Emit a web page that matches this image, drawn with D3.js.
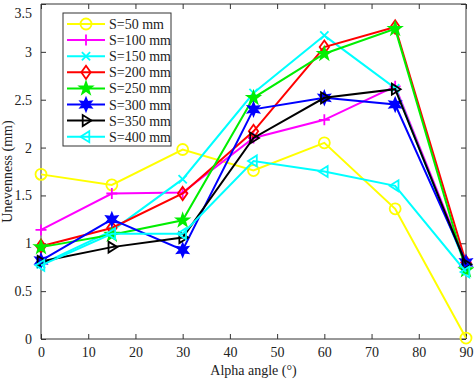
<!DOCTYPE html>
<html><head><meta charset="utf-8">
<script src="https://cdn.jsdelivr.net/npm/d3@7"></script>
<style>body{margin:0;background:#fff}svg{display:block}text{font-family:"Liberation Serif","Times New Roman",serif}</style>
</head><body>
<script>
const angles = [0, 15, 30, 45, 60, 75, 90];
const seriesNames = ["S=50 mm","S=100 mm","S=150 mm","S=200 mm","S=250 mm","S=300 mm","S=350 mm","S=400 mm"];
const s50  = [1.72, 1.61, 1.98, 1.76, 2.05, 1.36, 0.01];
const s100 = [1.14, 1.52, 1.53, 2.10, 2.29, 2.64, 0.80];
const s150 = [0.78, 1.13, 1.67, 2.57, 3.17, 2.62, 0.76];
const s200 = [0.97, 1.16, 1.52, 2.17, 3.05, 3.26, 0.80];
const s250 = [0.96, 1.09, 1.24, 2.52, 2.98, 3.24, 0.72];
const s300 = [0.82, 1.25, 0.93, 2.40, 2.52, 2.45, 0.80];
const s350 = [0.81, 0.96, 1.06, 2.10, 2.52, 2.61, 0.78];
const s400 = [0.77, 1.10, 1.10, 1.86, 1.75, 1.60, 0.70];
const colors = ["#ffff00","#ff00ff","#00ffff","#ff0000","#00ee00","#0000ff","#000000","#00ffff"];
const markers = ["circle","plus","x","diamond","star5","star6","triRight","triLeft"];
const xTicks = [0,10,20,30,40,50,60,70,80,90];
const yTicks = [0,0.5,1,1.5,2,2.5,3,3.5];
const allSeries = [s50,s100,s150,s200,s250,s300,s350,s400];

const W=474,H=381;
const m={l:41,r:8,t:4,b:42};
const svg=d3.select("body").append("svg").attr("width",W).attr("height",H);
const x=d3.scaleLinear().domain([0,90]).range([m.l,W-m.r]);
const y=d3.scaleLinear().domain([0,3.5]).range([H-m.b,m.t]);

function markerPath(type, r){
  const p=d3.path();
  if(type==="circle"){p.arc(0,0,r,0,2*Math.PI);}
  else if(type==="plus"){p.moveTo(-r,0);p.lineTo(r,0);p.moveTo(0,-r);p.lineTo(0,r);}
  else if(type==="x"){const a=r*0.75;p.moveTo(-a,-a);p.lineTo(a,a);p.moveTo(-a,a);p.lineTo(a,-a);}
  else if(type==="diamond"){p.moveTo(0,-r*1.2);p.lineTo(r*0.85,0);p.lineTo(0,r*1.2);p.lineTo(-r*0.85,0);p.closePath();}
  else if(type==="star5"||type==="star6"){
    const n=type==="star5"?5:6; const ri=type==="star5"?r*0.45:r*0.55;
    for(let i=0;i<2*n;i++){const rr=i%2?ri:r*1.15;const a=-Math.PI/2+i*Math.PI/n;
      const px=rr*Math.cos(a),py=rr*Math.sin(a); if(i===0)p.moveTo(px,py);else p.lineTo(px,py);}
    p.closePath();
  }
  else if(type==="triRight"){p.moveTo(r,0);p.lineTo(-r*0.6,-r);p.lineTo(-r*0.6,r);p.closePath();}
  else if(type==="triLeft"){p.moveTo(-r,0);p.lineTo(r*0.6,-r);p.lineTo(r*0.6,r);p.closePath();}
  return p.toString();
}
function filled(t){return t==="star5"||t==="star6";}

const g=svg.append("g");
const xb=g.append("g").attr("transform",`translate(0,${H-m.b})`).call(d3.axisBottom(x).tickValues(xTicks).tickSize(-5).tickPadding(8));
const xt=g.append("g").attr("transform",`translate(0,${m.t})`).call(d3.axisTop(x).tickValues(xTicks).tickSize(-5).tickFormat(""));
const yl=g.append("g").attr("transform",`translate(${m.l},0)`).call(d3.axisLeft(y).tickValues(yTicks).tickSize(-5).tickPadding(9).tickFormat(d=>d));
const yr=g.append("g").attr("transform",`translate(${W-m.r},0)`).call(d3.axisRight(y).tickValues(yTicks).tickSize(-5).tickFormat(""));
[xb,xt,yl,yr].forEach(a=>{a.selectAll("path.domain").attr("stroke","#333").attr("stroke-width",1);a.selectAll("line").attr("stroke","#333");
  a.selectAll("text").attr("font-size",14).attr("fill","#222").attr("font-family","Liberation Serif");});
yl.selectAll(".tick").filter(d=>d===3.5).select("text").attr("dy","0.95em");
xb.select("path.domain").attr("d",`M${m.l},0H${W-m.r}`);
xt.select("path.domain").attr("d",`M${m.l},0H${W-m.r}`);
yl.select("path.domain").attr("d",`M0,${m.t}V${H-m.b}`);
yr.select("path.domain").attr("d",`M0,${m.t}V${H-m.b}`);

svg.append("text").attr("x",W/2+m.l/2-4).attr("y",375).attr("text-anchor","middle").attr("font-size",14).attr("fill","#222").text("Alpha angle (°)");
svg.append("text").attr("transform",`translate(12,${(m.t+H-m.b)/2}) rotate(-90)`).attr("text-anchor","middle").attr("font-size",14).attr("fill","#222").text("Unevenness (mm)");

const line=d3.line().x((d,i)=>x(angles[i])).y(d=>y(d));
allSeries.forEach((s,k)=>{
  const gg=svg.append("g");
  gg.append("path").attr("d",line(s)).attr("fill","none").attr("stroke",colors[k]).attr("stroke-width",2);
  gg.selectAll("path.m").data(s).enter().append("path").attr("class","m")
    .attr("transform",(d,i)=>`translate(${x(angles[i])},${y(d)})`)
    .attr("d",markerPath(markers[k],5.5))
    .attr("fill",filled(markers[k])?colors[k]:"none").attr("stroke",colors[k]).attr("stroke-width",1.8);
});

const lg=svg.append("g");
lg.append("rect").attr("x",63).attr("y",13).attr("width",108).attr("height",133).attr("fill","#fff").attr("stroke","#333").attr("stroke-width",1);
seriesNames.forEach((n,k)=>{
  const yy=24+k*16.1;
  lg.append("line").attr("x1",67).attr("x2",105).attr("y1",yy).attr("y2",yy).attr("stroke",colors[k]).attr("stroke-width",2);
  lg.append("path").attr("transform",`translate(86,${yy})`).attr("d",markerPath(markers[k],5.5))
    .attr("fill",filled(markers[k])?colors[k]:"none").attr("stroke",colors[k]).attr("stroke-width",1.8);
  lg.append("text").attr("x",109).attr("y",yy+5).attr("font-size",14).attr("fill","#222").text(n);
});
</script>
</body></html>
